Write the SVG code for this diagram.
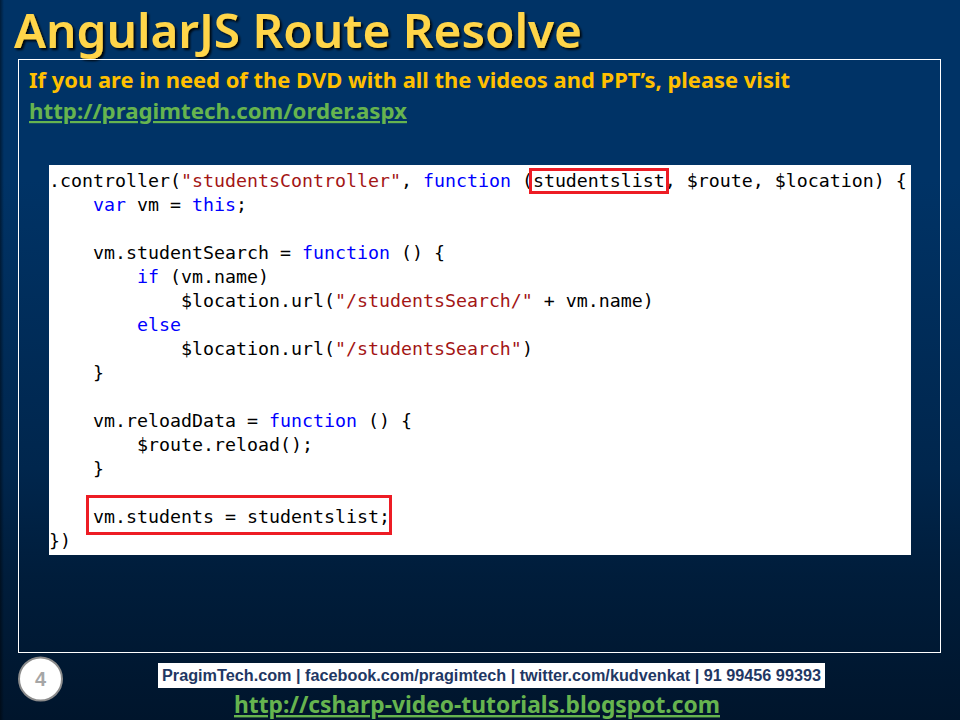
<svg xmlns="http://www.w3.org/2000/svg" width="960" height="720" viewBox="0 0 960 720">
<style>
.code{font-family:"DejaVu Sans Mono","Liberation Mono",monospace;font-size:18.27px;fill:#000;white-space:pre}
.k{fill:#0000ff}.s{fill:#a31515}
.box{fill:none;stroke:#ed1c24;stroke-width:3}
.link{font-family:"Noto Sans","Liberation Sans",Arial,sans-serif;font-weight:bold;fill:#66b44f;text-decoration:underline}
</style>
<defs>
<linearGradient id="bg" x1="0" y1="0" x2="0" y2="1">
<stop offset="0" stop-color="#003366"/><stop offset="0.25" stop-color="#003366"/><stop offset="0.65" stop-color="#00264d"/><stop offset="0.8" stop-color="#001d3b"/><stop offset="1" stop-color="#00152c"/>
</linearGradient>
<linearGradient id="edge" x1="0" y1="0" x2="1" y2="0">
<stop offset="0" stop-color="#000" stop-opacity="0.45"/><stop offset="1" stop-color="#000" stop-opacity="0"/>
</linearGradient>
<filter id="sh" x="-5%" y="-20%" width="110%" height="140%">
<feDropShadow dx="2" dy="2" stdDeviation="1" flood-color="#000" flood-opacity="0.9"/>
</filter>
</defs>
<rect id="background" width="960" height="720" fill="url(#bg)"/>
<rect width="4" height="720" fill="url(#edge)"/>
<g id="title"><text x="14" y="48" font-family="Noto Sans,Liberation Sans,Arial,sans-serif" font-size="46" font-weight="600" fill="#ffd54a" filter="url(#sh)" textLength="568" lengthAdjust="spacingAndGlyphs">AngularJS Route Resolve</text></g>
<rect id="frame" x="18.5" y="59.5" width="922" height="593" fill="none" stroke="#fff" stroke-width="1"/>
<g id="notice">
<text x="29" y="88" font-family="Noto Sans,Liberation Sans,Arial,sans-serif" font-size="22" font-weight="bold" fill="#ffc000" textLength="761" lengthAdjust="spacingAndGlyphs">If you are in need of the DVD with all the videos and PPT’s, please visit</text>
<text x="29" y="119" class="link" font-size="22" textLength="378" lengthAdjust="spacingAndGlyphs">http://pragimtech.com/order.aspx</text>
</g>
<g id="code">
<rect x="49" y="165" width="862" height="390" fill="#fff"/>
<text class="code" x="49" y="187">.controller(<tspan class="s">"studentsController"</tspan>, <tspan class="k">function</tspan> (studentslist, $route, $location) {</text>
<text class="code" x="49" y="211">    <tspan class="k">var</tspan> vm = <tspan class="k">this</tspan>;</text>
<text class="code" x="49" y="259">    vm.studentSearch = <tspan class="k">function</tspan> () {</text>
<text class="code" x="49" y="283">        <tspan class="k">if</tspan> (vm.name)</text>
<text class="code" x="49" y="307">            $location.url(<tspan class="s">"/studentsSearch/"</tspan> + vm.name)</text>
<text class="code" x="49" y="331">        <tspan class="k">else</tspan></text>
<text class="code" x="49" y="355">            $location.url(<tspan class="s">"/studentsSearch"</tspan>)</text>
<text class="code" x="49" y="379">    }</text>
<text class="code" x="49" y="427">    vm.reloadData = <tspan class="k">function</tspan> () {</text>
<text class="code" x="49" y="451">        $route.reload();</text>
<text class="code" x="49" y="475">    }</text>
<text class="code" x="49" y="523">    vm.students = studentslist;</text>
<text class="code" x="49" y="547">})</text>
<rect class="box" x="530.5" y="169.5" width="137" height="23"/>
<rect class="box" x="87.5" y="496.5" width="303" height="37"/>
</g>
<g id="page-number">
<circle cx="40.500" cy="679" r="21.500" fill="#fff" stroke="#8c8c8c" stroke-width="2"/>
<text x="40.500" y="686" text-anchor="middle" font-family="Liberation Sans,Arial,sans-serif" font-size="20" font-weight="bold" fill="#a6a6a6">4</text>
</g>
<g id="contact">
<rect x="158" y="663" width="667" height="25" fill="#fff"/>
<text x="162" y="681" font-family="Liberation Sans,Arial,sans-serif" font-size="16" font-weight="bold" fill="#1f3864" textLength="659" lengthAdjust="spacingAndGlyphs">PragimTech.com | facebook.com/pragimtech  | twitter.com/kudvenkat  | 91 99456 99393</text>
</g>
<g id="blog"><text x="234" y="713" class="link" font-size="24" textLength="486" lengthAdjust="spacingAndGlyphs">http://csharp-video-tutorials.blogspot.com</text></g>
</svg>
